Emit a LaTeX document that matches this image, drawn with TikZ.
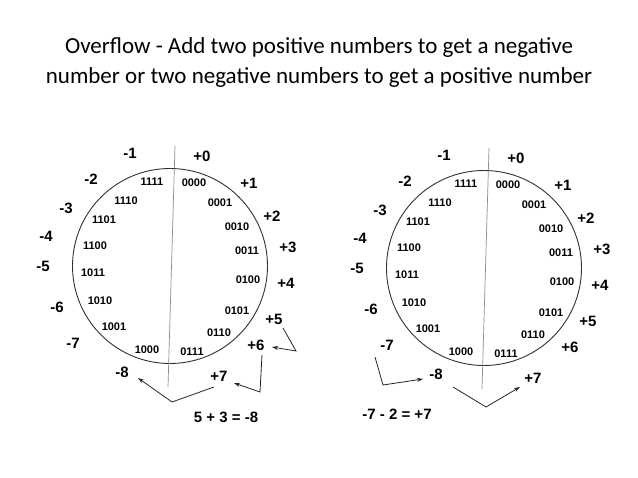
\documentclass[tikz,border=0pt]{standalone}
\usepackage{fontspec}
\setmainfont{Liberation Sans}
\newfontfamily\titlefont{Carlito}
\usetikzlibrary{arrows.meta}
\begin{document}
\begin{tikzpicture}[x=1pt,y=-1pt,
  outer/.style={font=\fontsize{15}{15}\selectfont\bfseries, inner sep=0pt},
  inner/.style={font=\fontsize{11}{11}\selectfont\bfseries, inner sep=0pt},
  wheel/.style={draw=black!80, line width=0.9pt, circle, minimum size=195pt, inner sep=0pt},
  axis/.style={draw=black!45, line width=0.7pt},
  pointer/.style={draw=black!85, line width=0.8pt, -{Stealth[length=6pt,width=4pt]}},
  eqn/.style={font=\fontsize{15}{15}\selectfont\bfseries, inner sep=0pt},
  ttl/.style={font=\titlefont\fontsize{23}{23}\selectfont, inner sep=0pt}]
\useasboundingbox (0,0) rectangle (638,478);
\fill[white] (0,0) rectangle (638,478);
\node[ttl] (t1) at (319,47) {Overflow - Add two positive numbers to get a negative};
\node[ttl] (t2) at (319,77) {number or two negative numbers to get a positive number};
\foreach \pre/\cx/\cy in {L/170/266, R/484/268}{
  \begin{scope}[shift={(\cx,\cy)}, name prefix=\pre-]
    \node[wheel] (c) at (0,0) {};
    \coordinate (vt) at (5,-120);
    \coordinate (vb) at (-2,121);
    \draw[axis] (vt) -- (vb);
    \foreach \t/\x/\y [count=\i] in {-1/-40/-113, +0/32/-110, -2/-79/-87, +1/79/-83,
      -3/-104/-58, +2/102/-50, -4/-124/-30, +3/118/-19, -5/-127/0, +4/116/17,
      -6/-113/41, +5/104/53, -7/-97/77, +6/86/79, -8/-48/106, +7/49/110}
      \node[outer] (o\i) at (\x,\y) {\t};
    \foreach \t/\x/\y [count=\i] in {1111/-18/-84, 0000/24/-83, 1110/-44/-65, 0001/50/-63,
      1101/-66/-46, 0010/67/-39, 1100/-75/-20, 0011/77/-15, 1011/-77/7, 0100/78/14,
      1010/-70/35, 0101/67/45, 1001/-56/61, 0110/49/67, 1000/-23/84, 0111/22/86}
      \node[inner] (b\i) at (\x,\y) {\t};
  \end{scope}
}
% left arrows
\coordinate (la1s) at (283,328); \coordinate (la1c) at (296,351); \coordinate (la1e) at (272,347);
\coordinate (la2s) at (262,355); \coordinate (la2c) at (260,392); \coordinate (la2e) at (234,383);
\coordinate (la3s) at (214,387); \coordinate (la3c) at (172,402); \coordinate (la3e) at (138,378);
\draw[pointer] (la1s) -- (la1c) -- (la1e);
\draw[pointer] (la2s) -- (la2c) -- (la2e);
\draw[pointer] (la3s) -- (la3c) -- (la3e);
% right arrows
\coordinate (rb1s) at (375,357); \coordinate (rb1c) at (383,385); \coordinate (rb1e) at (423,379);
\coordinate (rb2s) at (453,387); \coordinate (rb2c) at (486,407); \coordinate (rb2e) at (520,387);
\draw[pointer] (rb1s) -- (rb1c) -- (rb1e);
\draw[pointer] (rb2s) -- (rb2c) -- (rb2e);
\node[eqn] (e1) at (226,417) {5 + 3 = -8};
\node[eqn] (e2) at (397,414) {-7 - 2 = +7};
\end{tikzpicture}
\end{document}
